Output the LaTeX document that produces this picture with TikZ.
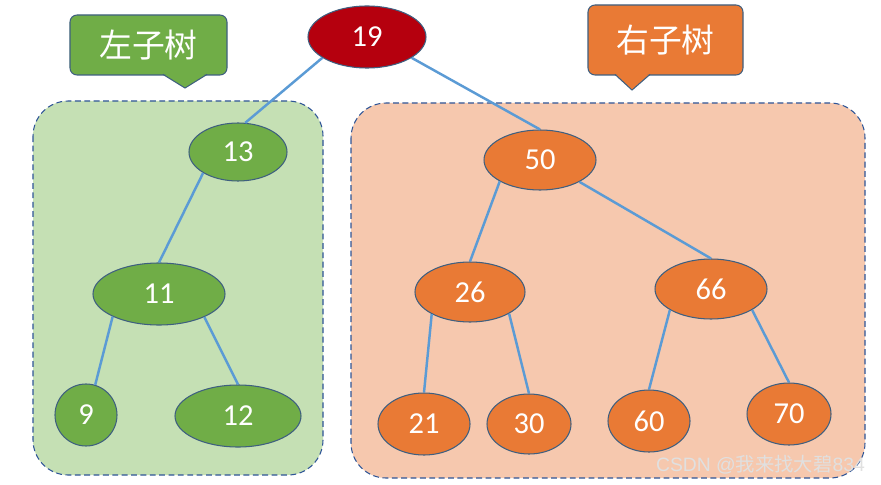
\documentclass[tikz,border=0pt]{standalone}
\usepackage{fontspec}
\setmainfont{Carlito}
\newfontfamily\cjkfont{Noto Sans CJK SC}
\newfontfamily\markfont{Liberation Sans}
\usepackage{tikz}
\usetikzlibrary{shapes.geometric}
\definecolor{leafgreen}{HTML}{70AD47}
\definecolor{palegreen}{HTML}{C5E0B4}
\definecolor{treeorange}{HTML}{E97A35}
\definecolor{paleorange}{HTML}{F6C8AE}
\definecolor{rootred}{HTML}{B5000E}
\definecolor{edgeblue}{HTML}{5B9BD5}
\definecolor{rimblue}{HTML}{3E5F80}
\definecolor{dashblue}{HTML}{2F5597}
\tikzset{
  every key/.style={
    ellipse,
    draw=rimblue,
    line width=0.9pt,
    text=white,
    inner sep=0pt,
    font=\fontsize{26}{28}\selectfont
  },
  green key/.style={every key, fill=leafgreen},
  orange key/.style={every key, fill=treeorange},
}
\tikzstyle{subtree} = [draw=dashblue, line width=0.9pt, dash pattern=on 5pt off 3pt, rounded corners=30pt]
\tikzstyle{label box} = [rectangle, rounded corners=6pt, draw=rimblue, line width=0.9pt, text=white, font=\cjkfont\fontsize{28}{30}\selectfont]
\tikzstyle{branch} = [draw=edgeblue, line width=2.1pt]

\begin{document}
\begin{tikzpicture}[x=0.03cm, y=-0.03cm]
        \useasboundingbox (0,0) rectangle (881,485);
        % subtree frames
        \fill[white] (0,0) rectangle (881,485);
        \draw [subtree, fill=palegreen] (33,101) rectangle (323,475);
        \draw [subtree, fill=paleorange] (351,103) rectangle (865,478);

        % labels
        \node [label box, fill=leafgreen, minimum width=4.71cm, minimum height=1.8cm] (leftlabel) at (148.5,45) {左子树};
        \filldraw [draw=rimblue, fill=leafgreen, line width=0.9pt] (163,74.4) -- (185,88) -- (207,74.4);
        \fill [leafgreen] (164,73) -- (185,87) -- (206,73) -- cycle;
        \node [label box, fill=treeorange, minimum width=4.65cm, minimum height=2.1cm] (rightlabel) at (665.5,40) {右子树};
        \filldraw [draw=rimblue, fill=treeorange, line width=0.9pt] (615,74.4) -- (632,90) -- (650,74.4);
        \fill [treeorange] (616,73) -- (632,89) -- (649,73) -- cycle;

        % keys
        \node [every key, fill=rootred, minimum width=3.54cm, minimum height=1.86cm] (k19) at (367,37) {19};
        \node [green key, minimum width=2.94cm, minimum height=1.74cm] (k13) at (238,152) {13};
        \node [green key, minimum width=3.96cm, minimum height=1.86cm] (k11) at (159,294) {11};
        \node [green key, minimum width=1.86cm, minimum height=1.86cm] (k9) at (86,415) {9};
        \node [green key, minimum width=3.78cm, minimum height=1.86cm] (k12) at (238,416) {12};
        \node [orange key, minimum width=3.36cm, minimum height=1.8cm] (k50) at (540,160) {50};
        \node [orange key, minimum width=3.3cm, minimum height=1.8cm] (k26) at (470,292) {26};
        \node [orange key, minimum width=3.36cm, minimum height=1.8cm] (k66) at (711,289) {66};
        \node [orange key, minimum width=2.76cm, minimum height=1.86cm] (k21) at (424,424) {21};
        \node [orange key, minimum width=2.52cm, minimum height=1.8cm] (k30) at (529,424) {30};
        \node [orange key, minimum width=2.46cm, minimum height=1.86cm] (k60) at (649,421) {60};
        \node [orange key, minimum width=2.52cm, minimum height=1.86cm] (k70) at (789,414) {70};

        % branches
        \draw [branch] (k19.205) -- (k13.76);
        \draw [branch] (k19.335) -- (k50.90);
        \draw [branch] (k13.211) -- (k11.90);
        \draw [branch] (k11.206) -- (k9.73);
        \draw [branch] (k11.333) -- (k12.90);
        \draw [branch] (k50.208) -- (k26.90);
        \draw [branch] (k50.331) -- (k66.90);
        \draw [branch] (k26.210) -- (k21.90);
        \draw [branch] (k26.331) -- (k30.90);
        \draw [branch] (k66.207) -- (k60.90);
        \draw [branch] (k66.333) -- (k70.90);

        % watermark
        \node [anchor=east, text=white!88!black, inner sep=0pt, font=\markfont\fontsize{16.5}{18}\selectfont] (mark) at (865,465) {CSDN @{\cjkfont 我来找大碧}834};
    \end{tikzpicture}
\end{document}
